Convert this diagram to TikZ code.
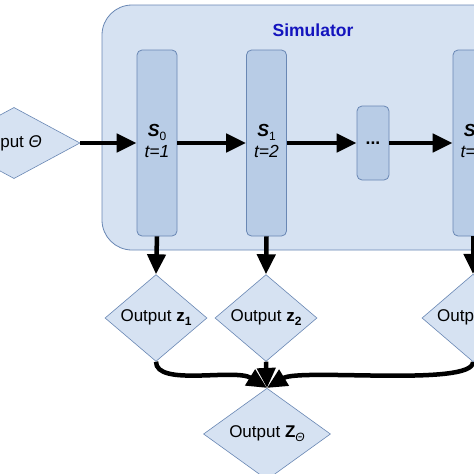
\documentclass[tikz,border=0pt]{standalone}
\usepackage{fontspec}
\setmainfont{Liberation Sans}
\usetikzlibrary{shapes.geometric,arrows.meta}
\definecolor{boxfill}{RGB}{214,226,242}
\definecolor{colfill}{RGB}{184,204,230}
\definecolor{edge}{RGB}{105,135,180}
\definecolor{titleblue}{RGB}{20,20,190}
\tikzset{
  simbox/.style={draw=edge, line width=0.8pt, fill=boxfill, rounded corners=30pt},
  column/.style={draw=edge, line width=0.8pt, fill=colfill, rounded corners=5pt, minimum width=40pt, inner sep=0pt, align=center, font=\fontsize{17.5}{20}\selectfont},
  dia/.style={diamond, draw=edge, line width=0.6pt, fill=boxfill, inner sep=0pt, font=\fontsize{17}{20}\selectfont},
  flow/.style={line width=4.5pt, -{Triangle[length=20pt,width=18pt]}},
}
\newcommand{\sublbl}[1]{\raisebox{-0.45ex}{\fontsize{12}{14}\selectfont #1}}
\newcommand{\statelbl}[2]{\raisebox{-3pt}{\begin{tabular}{@{}c@{}}{\bfseries\itshape S}\sublbl{#1}\\[1pt]\itshape t=#2\end{tabular}}}
\begin{document}
\begin{tikzpicture}[x=1pt,y=-1pt]
\useasboundingbox (0,0) rectangle (474,474);
\fill[white] (0,0) rectangle (474,474);
\draw[simbox] (102,5) rectangle (540,250);
\node[font=\fontsize{17.5}{20}\selectfont\bfseries, text=titleblue] (title) at (313,30) {Simulator};
\node[column, minimum height=186pt] (s0) at (157,143) {\statelbl{0}{1}};
\node[column, minimum height=186pt] (s1) at (266.5,143) {\statelbl{1}{2}};
\node[column, minimum width=32pt, minimum height=74pt] (dots) at (373,143) {\bfseries ...};
\node[column, minimum height=186pt] (sn) at (473,143) {\statelbl{n}{n}};
\node[dia, minimum width=132pt, minimum height=61pt] (in) at (14,143) {Input \textit{Θ}};
\node[dia, minimum width=102pt, minimum height=74pt] (z1) at (156,318) {Output \textbf{z}\sublbl{\bfseries 1}};
\node[dia, minimum width=102pt, minimum height=74pt] (z2) at (266,318) {Output \textbf{z}\sublbl{\bfseries 2}};
\node[dia, minimum width=102pt, minimum height=74pt] (zn) at (473,318) {Output \textbf{z}\sublbl{\bfseries\itshape n}};
\node[dia, minimum width=127pt, minimum height=73pt] (zt) at (267,434) {Output \textbf{Z}\sublbl{\itshape Θ}};
\draw[flow] (in.east) -- (s0.west);
\draw[flow] (s0.east) -- (s1.west);
\draw[flow] (s1.east) -- (dots.west);
\draw[flow] (dots.east) -- (sn.west);
\draw[flow] (s0.south) -- (z1.north);
\draw[flow] (s1.south) -- (z2.north);
\draw[flow] (sn.south -| zn.north) -- (zn.north);
\draw[flow] (z2.south) -- (zt.north);
\draw[flow] (z1.south) .. controls (156,387) and (235,368) .. (zt.north);
\draw[flow] (zn.south) .. controls (473,387) and (300,368) .. (zt.north);
\end{tikzpicture}
\end{document}
